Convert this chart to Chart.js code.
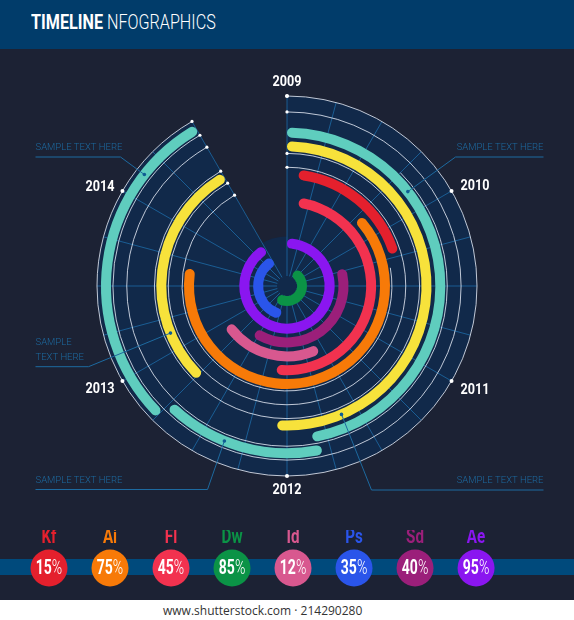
<!DOCTYPE html>
<html><head><meta charset="utf-8">
<script src="https://cdn.jsdelivr.net/npm/chart.js@4.4.1/dist/chart.umd.min.js"></script>
<style>
html,body{margin:0;padding:0;}
body{width:574px;height:620px;background:#1c2234;position:relative;overflow:hidden;font-family:Roboto,sans-serif;}
#hdr{position:absolute;left:0;top:0;width:574px;height:49px;background:#013c6a;}
#ttl{position:absolute;left:31px;top:10px;font-size:21px;line-height:24px;color:#fff;transform:scaleX(.77);transform-origin:left top;white-space:nowrap;}
#ttl b{font-weight:700}
#ttl i{font-style:normal;font-weight:300}
#band{position:absolute;left:0;top:559px;width:574px;height:16px;background:#004a7c;}
#foot{position:absolute;left:0;top:600px;width:574px;height:20px;background:#fff;color:#333;font:12px "Open Sans",sans-serif;line-height:21px;}
#foot span{position:absolute;left:163px;top:0;white-space:nowrap;}
#c1{position:absolute;left:0;top:0;}
#c2{position:absolute;left:0;top:530px;}
</style></head>
<body>
<div id="hdr"><div id="ttl"><b>TIMELINE</b><i> NFOGRAPHICS</i></div></div>
<div id="band"></div>
<canvas id="c1" width="574" height="572"></canvas>
<canvas id="c2" width="574" height="76"></canvas>
<div id="foot"><span>www.shutterstock.com · 214290280</span></div>
<script>
// ---------- data ----------
const years = ['2009','2010','2011','2012','2013','2014'];
const tools = ['Kf','Ai','Fl','Dw','Id','Ps','Sd','Ae'];
const toolShare = [15,75,45,85,12,35,40,95];
// rings, outermost first; angles in degrees along the timeline (0 = 2009, 60 per year)
const arcNames = ['Timeline C','Timeline B','Timeline A','Track D','Track E','Kf','Ai','Fl','Id','Sd','Ae','Ps','Dw'];
const arcStartDeg = [225,168,0,0,224,6,47,8,154,73,0,192,26];
const arcEndDeg   = [330,224,170.5,184,330,73,280,187,236,214,329,331,218];
const noteTexts = [['SAMPLE TEXT HERE'],['SAMPLE TEXT HERE'],['SAMPLE','TEXT HERE'],['SAMPLE TEXT HERE'],['SAMPLE TEXT HERE']];
const noteRing = [0,2,4,1,3];
const noteDeg = [308,52,248,202,157];

// ---------- styles ----------
const TEAL='#5fcdbe', YEL='#f7e23b';
const toolColors = {Kf:'#e4202d',Ai:'#f77a08',Fl:'#f2324f',Dw:'#0b9346',Id:'#d8588f',Ps:'#2a55ea',Sd:'#9b1f7a',Ae:'#8a16f0'};
const arcColors = [TEAL,TEAL,TEAL,YEL,YEL,toolColors.Kf,toolColors.Ai,toolColors.Fl,toolColors.Id,toolColors.Sd,toolColors.Ae,toolColors.Ps,toolColors.Dw];
const ARC = 10, GAP = 3.8333, OUTER = 186, INNER = 10;
const DISK = '#11294a', SPOKE = 'rgba(30,115,180,0.7)', GUIDE = 'rgba(235,240,250,0.8)', NOTE = '#1d6aa0';
const SPAN = 330;
const guideGaps = [{g:0,from:0,to:SPAN},{g:1,from:45,to:SPAN},{g:3,from:0,to:SPAN},{g:4,from:0,to:SPAN},{g:5,from:80,to:SPAN}];
// note layout (relative to chart centre): elbow, line end x, text rows y
const noteLayout = [
  {ex:-166.5, ey:-129, lx:-251.5, ty:[-138], align:'left'},
  {ex:168.5, ey:-129, lx:256.5, ty:[-138], align:'right'},
  {ex:-198.5, ey:80.7, lx:-251.5, ty:[56.7,71.7], align:'left'},
  {ex:-79.5, ey:203.5, lx:-251.5, ty:[195], align:'left'},
  {ex:84.5, ey:204, lx:256.5, ty:[195], align:'right'}
];

const DEG = Math.PI/180;
const ang = d => (d-90)*DEG;
const T = 'rgba(0,0,0,0)';

const datasets = [];
arcStartDeg.forEach((s,i)=>{
  if(i>0) datasets.push({label:'gap'+i,data:[1],backgroundColor:[T],weight:GAP,borderWidth:0});
  const e = arcEndDeg[i];
  datasets.push({label:arcNames[i],data:[s,e-s,360-e],backgroundColor:[T,arcColors[i],T],
    weight:ARC,borderWidth:0,borderRadius:ARC/2});
});

function geo(chart){
  const m0 = chart.getDatasetMeta(0).data[0];
  const ringR = arcStartDeg.map((_,i)=>{const el=chart.getDatasetMeta(2*i).data[0];return (el.innerRadius+el.outerRadius)/2;});
  const gapR = arcStartDeg.slice(1).map((_,j)=>{const el=chart.getDatasetMeta(2*j+1).data[0];return (el.innerRadius+el.outerRadius)/2;});
  return {cx:m0.x, cy:m0.y, ringR, gapR, R:m0.outerRadius+4};
}
function ctext(ctx,str,x,y,sx,align){
  ctx.save();ctx.translate(x,y);ctx.scale(sx,1);ctx.textAlign=align||'center';ctx.fillText(str,0,0);ctx.restore();
}
function pt(g,r,d){return [g.cx+r*Math.cos(ang(d)), g.cy+r*Math.sin(ang(d))];}

const backPlugin = {
  id:'back',
  beforeDatasetsDraw(chart){
    const ctx=chart.ctx, g=geo(chart);
    ctx.save();
    ctx.fillStyle=DISK;
    ctx.beginPath();ctx.moveTo(g.cx,g.cy);ctx.arc(g.cx,g.cy,g.R,ang(0),ang(SPAN));ctx.closePath();ctx.fill();
    ctx.beginPath();ctx.arc(g.cx,g.cy,g.gapR[9],0,2*Math.PI);ctx.fill();
    ctx.strokeStyle=SPOKE;ctx.lineWidth=1;
    for(let d=0; d<=SPAN; d+=15){
      const a=pt(g,INNER,d), b=pt(g,g.R,d);
      ctx.beginPath();ctx.moveTo(a[0],a[1]);ctx.lineTo(b[0],b[1]);ctx.stroke();
    }
    ctx.strokeStyle=GUIDE;ctx.fillStyle='#fff';ctx.lineWidth=1;
    const guides=[{r:g.R,from:0,to:SPAN}].concat(guideGaps.map(o=>({r:g.gapR[o.g],from:o.from,to:o.to})));
    guides.forEach(o=>{
      ctx.beginPath();ctx.arc(g.cx,g.cy,o.r,ang(o.from),ang(o.to));ctx.stroke();
      [o.from,o.to].forEach(d=>{
        if(d!==0 && d!==SPAN) return;
        const p=pt(g,o.r,d);ctx.beginPath();ctx.arc(p[0],p[1],1.6,0,2*Math.PI);ctx.fill();});
    });
    ctx.restore();
  },
  afterDatasetsDraw(chart){
    const ctx=chart.ctx, g=geo(chart);
    ctx.save();
    ctx.fillStyle='#fff';
    ctx.font='bold 14px Roboto, sans-serif';ctx.textBaseline='middle';
    years.forEach((y,i)=>{
      const d=i*60, p=pt(g,g.R,d);
      ctx.beginPath();ctx.arc(p[0],p[1],2,0,2*Math.PI);ctx.fill();
      if(d===0) ctext(ctx,y,p[0],p[1]-14,0.9,'center');
      else if(d===180) ctext(ctx,y,p[0],p[1]+14.5,0.9,'center');
      else if(d<180) ctext(ctx,y,p[0]+9,p[1]+(d<90?-5:9),0.9,'left');
      else ctext(ctx,y,p[0]-8,p[1]+(d>270?-4:8),0.9,'right');
    });
    ctx.strokeStyle=NOTE;ctx.lineWidth=1;
    ctx.font='300 9.5px Roboto, sans-serif';
    noteTexts.forEach((rows,k)=>{
      const L=noteLayout[k], p=pt(g,g.ringR[noteRing[k]],noteDeg[k]);
      const ex=g.cx+L.ex, ey=g.cy+L.ey, lx=g.cx+L.lx;
      ctx.beginPath();ctx.moveTo(p[0],p[1]);ctx.lineTo(ex,ey);ctx.lineTo(lx,ey);ctx.stroke();
      ctx.fillStyle='#0f5d93';ctx.beginPath();ctx.arc(p[0],p[1],1.8,0,2*Math.PI);ctx.fill();
      ctx.fillStyle=NOTE;
      rows.forEach((t,j)=>{ctx.textAlign=L.align;ctx.fillText(t,lx,g.cy+L.ty[j]);});
    });
    ctx.restore();
  }
};

new Chart(document.getElementById('c1'),{
  type:'doughnut',
  data:{labels:['before','span','after'],datasets},
  options:{responsive:false,animation:false,events:[],
    radius:OUTER, cutout:(INNER/OUTER*100)+'%', rotation:0, hoverOffset:0, offset:0, spacing:0,
    layout:{padding:0},
    plugins:{legend:{display:false},tooltip:{enabled:false}}},
  plugins:[backPlugin]
});

// ---------- legend row ----------
const legendPlugin = {
  id:'legendLabels',
  afterDatasetsDraw(chart){
    const ctx=chart.ctx, pts=chart.getDatasetMeta(0).data;
    ctx.save();ctx.textBaseline='middle';
    pts.forEach((p,i)=>{
      ctx.fillStyle=toolColors[tools[i]];
      ctx.font='bold 20px Roboto, sans-serif';
      ctext(ctx,tools[i],p.x,p.y-30,0.76,'center');
      ctx.fillStyle='#fff';
      const num=String(toolShare[i]), sx=0.7;
      ctx.font='bold 20px Roboto, sans-serif'; const w1=ctx.measureText(num).width*sx;
      ctx.font='300 20px Roboto, sans-serif'; const w2=ctx.measureText('%').width*sx;
      const x0=p.x-(w1+w2)/2;
      ctx.font='bold 20px Roboto, sans-serif'; ctext(ctx,num,x0,p.y+1,sx,'left');
      ctx.font='300 20px Roboto, sans-serif'; ctext(ctx,'%',x0+w1,p.y+1,sx,'left');
    });
    ctx.restore();
  }
};
new Chart(document.getElementById('c2'),{
  type:'scatter',
  data:{labels:tools,datasets:[{data:tools.map(t=>({x:t,y:0})),pointRadius:18.5,
    pointBackgroundColor:tools.map(t=>toolColors[t]),pointBorderWidth:0}]},
  options:{responsive:false,animation:false,events:[],
    layout:{padding:{left:17.45,right:67.45,top:0,bottom:0}},
    scales:{x:{type:'category',labels:tools,offset:true,display:false},y:{min:-1,max:1,display:false}},
    plugins:{legend:{display:false},tooltip:{enabled:false}}},
  plugins:[legendPlugin]
});
</script>
</body></html>
